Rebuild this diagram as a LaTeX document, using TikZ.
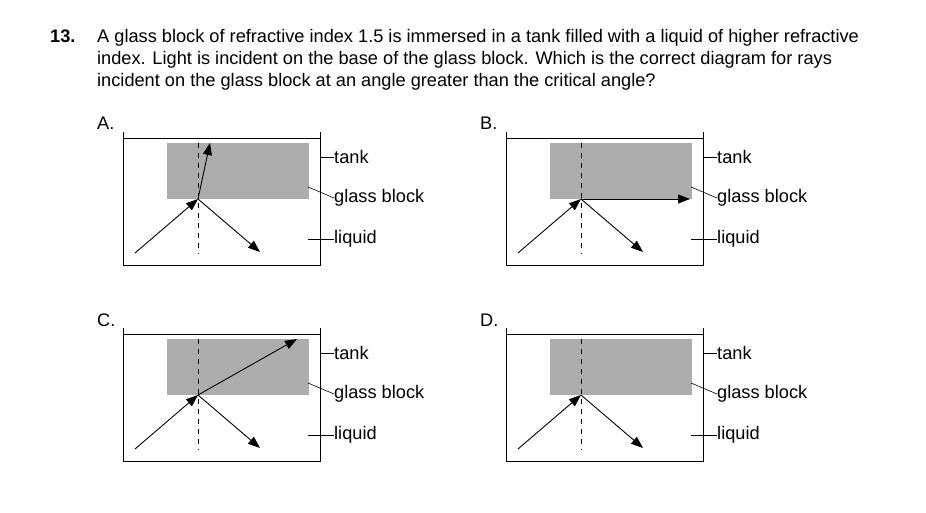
\documentclass[tikz,border=0pt]{standalone}
\usepackage{fontspec}
\setmainfont{Liberation Sans}
\usetikzlibrary{arrows.meta}
\begin{document}
\begin{tikzpicture}[x=1pt,y=-1pt,
  ray/.style={line width=0.9pt,-{Triangle[length=12pt,width=9pt]}},
  plain/.style={line width=0.9pt},
  txt/.style={font=\fontsize{18.2}{21}\selectfont,inner sep=0pt},
  lbl/.style={txt,anchor=west}]
\useasboundingbox (0,0) rectangle (926,513);
% question
\node[txt,anchor=base west,font=\fontsize{18.2}{21}\selectfont\bfseries] (num) at (50,43) {13.};
\node[txt,anchor=base west] (q1) at (97,43) {A glass block of refractive index 1.5 is immersed in a tank filled with a liquid of higher refractive};
\node[txt,anchor=base west] (q2) at (97,65) {index. Light is incident on the base of the glass block. Which is the correct diagram for rays};
\node[txt,anchor=base west] (q3) at (97,87) {incident on the glass block at an angle greater than the critical angle?};
\foreach \L/\dx/\dy in {A/0/0,B/383/0,C/0/196,D/383/196}{
\begin{scope}[shift={(\dx,\dy)}]
  \node[lbl,anchor=base west] (opt\L) at (97,130) {\L.};
  \fill[black!32] (167,143) rectangle (309,199);
  \draw[plain] (123,132) -- (123,265) -- (320,265) -- (320,132);
  \draw[plain] (123,138) -- (320,138);
  \draw[plain,line width=0.5pt,dash pattern=on 5pt off 5pt] (198,143) -- (198,254);
  \coordinate (p\L) at (198,199);
  \coordinate (s\L) at (135,253);
  \coordinate (r\L) at (260,252);
  \draw[ray] (s\L) -- (p\L);
  \draw[ray] (p\L) -- (r\L);
  \node[lbl] (tank\L) at (334,157) {tank};
  \node[lbl] (glass\L) at (334,198) {glass block};
  \node[lbl] (liq\L) at (334,239) {liquid};
  \draw[plain,line width=0.6pt] (320,157) -- (tank\L.west);
  \draw[plain,line width=0.6pt] (308,187) -- (glass\L.west);
  \draw[plain,line width=0.6pt] (308,239) -- (liq\L.west);
\end{scope}}
\coordinate (tA) at (210,143);
\coordinate (tB) at (690,199);
\coordinate (tC) at (297,339);
\draw[ray] (pA) -- (tA);
\draw[ray] (pB) -- (tB);
\draw[ray] (pC) -- (tC);
\end{tikzpicture}
\end{document}
